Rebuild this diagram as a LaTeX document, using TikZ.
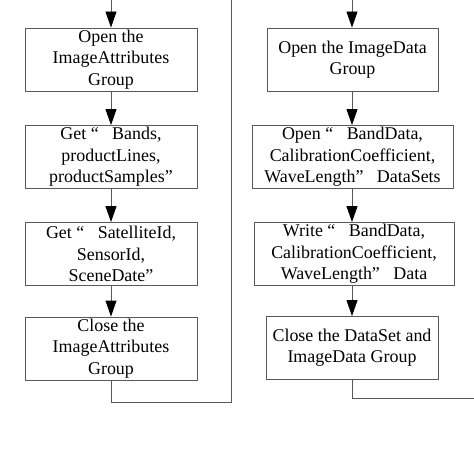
\documentclass[tikz,border=0pt]{standalone}
\usepackage{fontspec}
\setmainfont{Liberation Serif}
\usetikzlibrary{arrows.meta}
\begin{document}
\begin{tikzpicture}[x=1bp,y=-1bp,
  box/.style={draw=black!65,line width=0.9bp,align=center,inner sep=0pt,
    minimum height=63bp,font=\fontsize{18}{21.5}\selectfont},
  conn/.style={draw=black!65,line width=0.9bp},
  arr/.style={conn,-{Triangle[width=11bp,length=16bp,fill=black,color=black]}}]
\useasboundingbox (0,0) rectangle (474,474);
% left column
\node[box,minimum width=172bp] (L1) at (111,59.5) {Open the\\ImageAttributes\\Group};
\node[box,minimum width=172bp] (L2) at (111,157) {Get “\ \ \ Bands,\\productLines,\\productSamples”};
\node[box,minimum width=172bp] (L3) at (111,254) {Get “\ \ \ SatelliteId,\\SensorId,\\SceneDate”};
\node[box,minimum width=172bp] (L4) at (111,348.5) {Close the\\ImageAttributes\\Group};
% right column
\node[box,minimum width=171bp] (R1) at (352.5,59.5) {Open the ImageData\\Group};
\node[box,minimum width=201bp] (R2) at (352.5,157) {Open “\ \ \ BandData,\\CalibrationCoefficient,\\WaveLength”\ \ \ DataSets};
\node[box,minimum width=200bp] (R3) at (354,254) {Write “\ \ \ BandData,\\CalibrationCoefficient,\\WaveLength”\ \ \ Data};
\node[box,minimum width=172bp] (R4) at (352,348) {Close the DataSet and\\ImageData Group};
% coordinates
\coordinate (ltop) at (111,0);
\coordinate (rtop) at (352,0);
\coordinate (lc) at (231,402);
\coordinate (lup) at (231,0);
\coordinate (re) at (474,398);
% connectors
\draw[arr] (ltop) -- (L1.north);
\draw[arr] (L1.south) -- (L2.north);
\draw[arr] (L2.south) -- (L3.north);
\draw[arr] (L3.south) -- (L4.north);
\draw[conn] (L4.south) |- (lc) -- (lup);
\draw[arr] (rtop) -- (R1.north -| rtop);
\draw[arr] (R1.south -| rtop) -- (R2.north -| rtop);
\draw[arr] (R2.south -| rtop) -- (R3.north -| rtop);
\draw[arr] (R3.south -| rtop) -- (R4.north -| rtop);
\draw[conn] (R4.south -| rtop) |- (re);
\end{tikzpicture}
\end{document}
